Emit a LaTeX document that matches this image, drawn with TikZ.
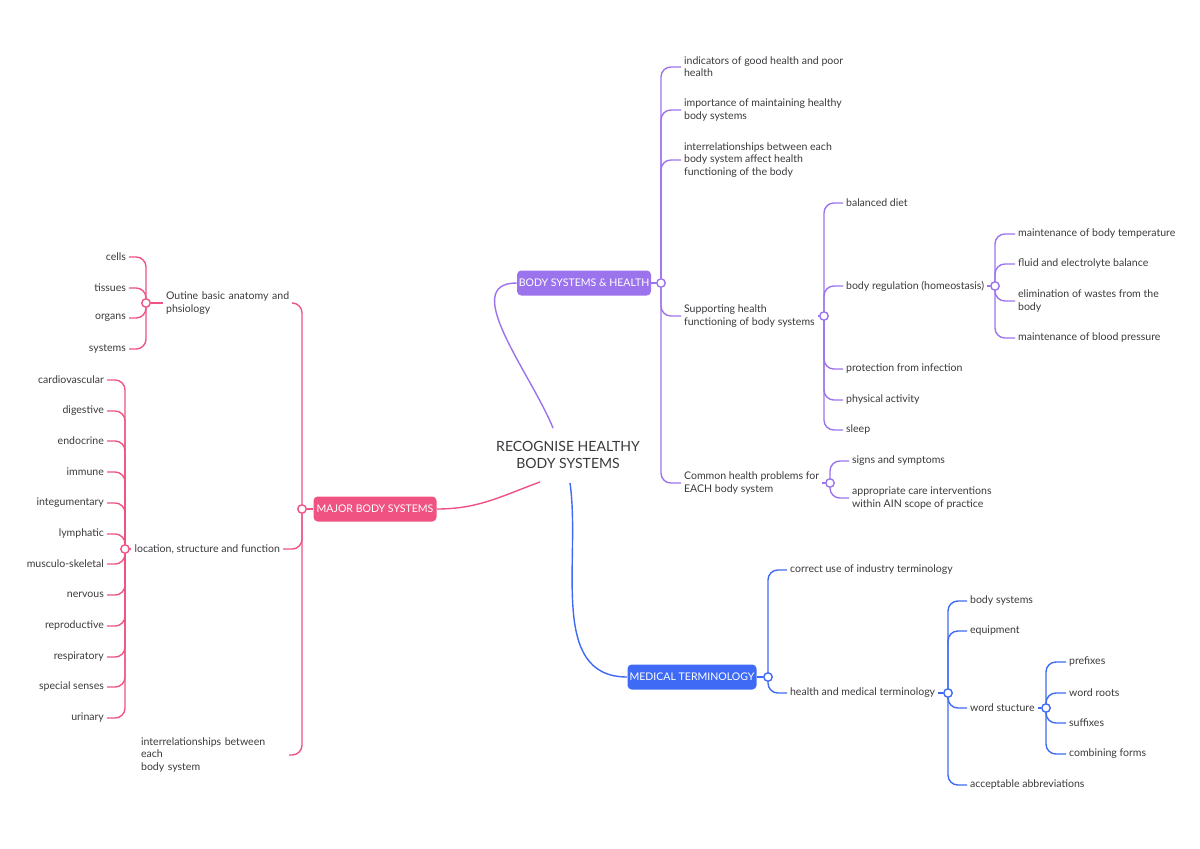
\documentclass[tikz,border=0pt]{standalone}
\usepackage{fontspec}
\setmainfont{Lato}
\definecolor{purp}{RGB}{155,115,236}
\definecolor{pink}{RGB}{240,82,130}
\definecolor{blu}{RGB}{62,106,245}
\definecolor{txt}{RGB}{58,58,62}
\tikzset{
  leaf/.style={anchor=west,align=left,inner sep=2pt,text=txt,font=\fontsize{7.5}{8.7}\selectfont},
  leafl/.style={leaf,anchor=east,align=right},
  badge/.style={rounded corners=3pt,text=white,inner sep=0pt,font=\fontsize{7.5}{9}\selectfont},
  hub/.style={circle,draw,fill=white,line width=1pt,inner sep=0pt,minimum size=6pt},
  br/.style={line width=1pt,rounded corners=7pt},
}
\begin{document}
\begin{tikzpicture}[x=0.025cm,y=-0.025cm]
\useasboundingbox (0,0) rectangle (1200,848);

% root
\node[text=txt,align=center,font=\fontsize{10}{12}\selectfont] (root) at (568,455) {RECOGNISE HEALTHY\\BODY SYSTEMS};
\coordinate (rp) at (553,428);
\coordinate (rk) at (540,482);
\coordinate (rb) at (570,483);

% ---------- body systems & health ----------
\node[badge,fill=purp,minimum width=134*0.025cm,minimum height=25*0.025cm] (bsh) at (584,283) {BODY SYSTEMS \& HEALTH};
\draw[purp,line width=1pt] (rp) to[out=112,in=180] (bsh.west);
\node[hub,draw=purp] (hbsh) at (661,283) {};
\draw[purp,line width=1pt] (bsh.east) -- (hbsh);

\node[leaf] (ind) at (681,67) {indicators of good health and poor\\health};
\node[leaf] (imp) at (681,110) {importance of maintaining healthy\\body systems};
\node[leaf] (inter) at (681,160) {interrelationships between each\\body system affect health\\functioning of the body};
\node[leaf] (supp) at (681,316) {Supporting health\\functioning of body systems};
\node[leaf] (comm) at (681,483) {Common health problems for\\EACH body system};
\foreach \c in {ind,imp,inter,supp,comm}
  \draw[br,purp] (hbsh) |- (\c.west);

\node[hub,draw=purp] (hsupp) at (824,316) {};
\draw[purp,line width=1pt] (supp.east) -- (hsupp);
\node[leaf] (diet) at (843,203) {balanced diet};
\node[leaf] (reg) at (843,286) {body regulation (homeostasis)};
\node[leaf] (prot) at (843,369) {protection from infection};
\node[leaf] (phys) at (843,400) {physical activity};
\node[leaf] (sleep) at (843,430) {sleep};
\foreach \c in {diet,reg,prot,phys,sleep}
  \draw[br,purp] (hsupp) |- (\c.west);

\node[hub,draw=purp] (hreg) at (995,286) {};
\draw[purp,line width=1pt] (reg.east) -- (hreg);
\node[leaf] (temp) at (1015,234) {maintenance of body temperature};
\node[leaf] (fluid) at (1015,264) {fluid and electrolyte balance};
\node[leaf] (elim) at (1015,301) {elimination of wastes from the\\body};
\node[leaf] (bp) at (1015,338) {maintenance of blood pressure};
\foreach \c in {temp,fluid,elim,bp}
  \draw[br,purp] (hreg) |- (\c.west);

\node[hub,draw=purp] (hcomm) at (830,483) {};
\draw[purp,line width=1pt] (comm.east) -- (hcomm);
\node[leaf] (signs) at (849,461) {signs and symptoms};
\node[leaf] (care) at (849,498) {appropriate care interventions\\within AIN scope of practice};
\foreach \c in {signs,care}
  \draw[br,purp] (hcomm) |- (\c.west);

% ---------- major body systems ----------
\node[badge,fill=pink,minimum width=123*0.025cm,minimum height=25*0.025cm] (mbs) at (375,509) {MAJOR BODY SYSTEMS};
\draw[pink,line width=1pt] (rk) to[out=200,in=0] (mbs.east);
\node[hub,draw=pink] (hmbs) at (302,509) {};
\draw[pink,line width=1pt] (mbs.west) -- (hmbs);

\node[leaf,text width=125*0.025cm] (anat) at (163,303) {Outine basic anatomy and\\phsiology};
\node[leafl] (loc) at (283,549) {location, structure and function};
\node[leaf,text width=145*0.025cm] (rel) at (138,755) {interrelationships between each\\body system};
\foreach \c in {anat,loc,rel}
  \draw[br,pink] (hmbs) |- (\c.east);

\node[hub,draw=pink] (hanat) at (146,303) {};
\draw[pink,line width=1pt] (anat.west) -- (hanat);
\foreach \n/\t/\y in {cel/cells/257,tis/tissues/288,org/organs/318,sys/systems/349}{
  \node[leafl] (\n) at (129,\y) {\t};
  \draw[br,pink] (hanat) |- (\n.east);
}

\node[hub,draw=pink] (hloc) at (125,549) {};
\draw[pink,line width=1pt] (loc.west) -- (hloc);
\foreach \n/\t/\y in {car/cardiovascular/380,dig/digestive/411,endo/endocrine/441,imm/immune/472,integ/integumentary/503,lym/lymphatic/534,musc/musculo-skeletal/564,nerv/nervous/595,repr/reproductive/626,resp/respiratory/657,spec/special senses/687,uri/urinary/718}{
  \node[leafl] (\n) at (107,\y) {\t};
  \draw[br,pink] (hloc) |- (\n.east);
}

% ---------- medical terminology ----------
\node[badge,fill=blu,minimum width=129*0.025cm,minimum height=25*0.025cm] (med) at (692,677) {MEDICAL TERMINOLOGY};
\draw[blu,line width=1pt] (rb) to[out=-82,in=180] (med.west);
\node[hub,draw=blu] (hmed) at (768,677) {};
\draw[blu,line width=1pt] (med.east) -- (hmed);

\node[leaf] (corr) at (787,570) {correct use of industry terminology};
\node[leaf] (hmt) at (787,693) {health and medical terminology};
\foreach \c in {corr,hmt}
  \draw[br,blu] (hmed) |- (\c.west);

\node[hub,draw=blu] (hhmt) at (948,693) {};
\draw[blu,line width=1pt] (hmt.east) -- (hhmt);
\node[leaf] (bsys) at (967,601) {body systems};
\node[leaf] (equip) at (967,631) {equipment};
\node[leaf] (word) at (967,708) {word stucture};
\node[leaf] (abbr) at (967,785) {acceptable abbreviations};
\foreach \c in {bsys,equip,word,abbr}
  \draw[br,blu] (hhmt) |- (\c.west);

\node[hub,draw=blu] (hword) at (1046,708) {};
\draw[blu,line width=1pt] (word.east) -- (hword);
\foreach \n/\t/\y in {pre/prefixes/662,root/word roots/693,suf/suffixes/723,comb/combining forms/754}{
  \node[leaf] (\n) at (1066,\y) {\t};
  \draw[br,blu] (hword) |- (\n.west);
}
\end{tikzpicture}
\end{document}
